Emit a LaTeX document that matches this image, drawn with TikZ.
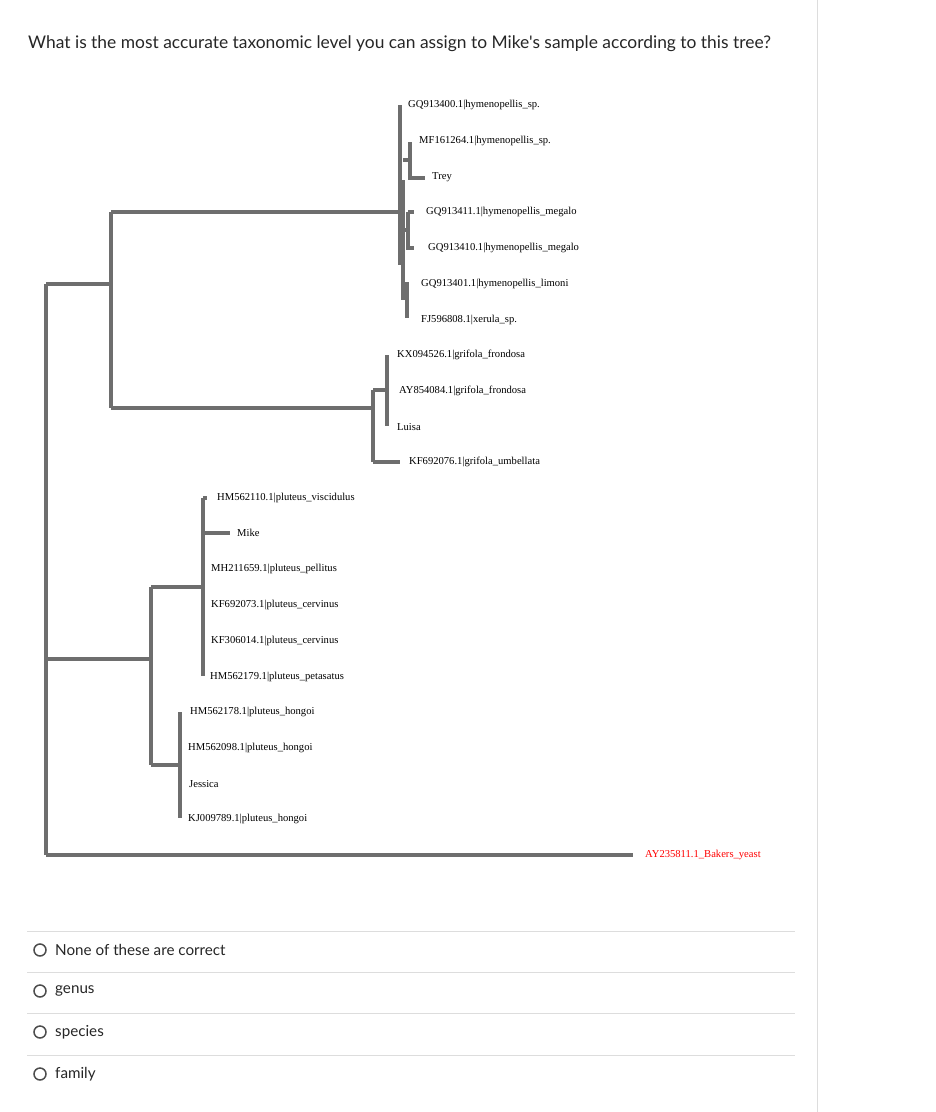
\documentclass[tikz,border=0pt]{standalone}
\usepackage{fontspec}
\setmainfont{Liberation Serif}
\newfontfamily\lato{Lato}
\definecolor{br}{HTML}{6E6E6E}
\definecolor{sep}{HTML}{DDDDDD}
\begin{document}
\begin{tikzpicture}[x=1pt,y=-1pt,
  br/.style={draw=br,line width=3.6pt},
  lb/.style={anchor=west,font=\fontsize{10.6}{11}\selectfont,inner sep=0pt},
  opt/.style={anchor=west,font=\lato\fontsize{15.2}{16}\selectfont,text=black!85,inner sep=0pt},
  rad/.style={draw=black!70,line width=1.5pt}]
\useasboundingbox (0,0) rectangle (936,1112);
\draw[sep,line width=1pt] (817,0) -- (817,1112);
\node[anchor=west,inner sep=0pt,font=\lato\fontsize{17.4}{19}\selectfont,text=black!85] (q) at (28,44) {What is the most accurate taxonomic level you can assign to Mike's sample according to this tree?};
% root
\draw[br] (46,284) -- (46,855);
\draw[br] (46,284) -- (111,284);
\draw[br] (111,212) -- (111,408);
\draw[br] (111,212) -- (403,212);
\draw[br] (111,408) -- (373,408);
% grifola
\draw[br] (373,390) -- (373,462);
\draw[br] (373,390) -- (387,390);
\draw[br] (387,355) -- (387,426);
\draw[br] (373,462) -- (400,462);
% hymeno
\draw[br] (400,105) -- (400,265);
\draw[br] (400,195) -- (403,195);
\draw[br] (403,180) -- (403,300);
\draw[br] (403,160) -- (410,160);
\draw[br] (410,142) -- (410,178) -- (425,178);
\draw[br] (403,230) -- (408,230);
\draw[br] (408,212) -- (414,212);
\draw[br] (408,212) -- (408,248) -- (414,248);
\draw[br] (403,290) -- (407,290);
\draw[br] (407,282) -- (407,318);
% pluteus
\draw[br] (46,659) -- (151,659);
\draw[br] (151,587) -- (151,765);
\draw[br] (151,587) -- (203,587);
\draw[br] (203,498) -- (203,676);
\draw[br] (203,498) -- (207,498);
\draw[br] (203,533) -- (230,533);
\draw[br] (151,765) -- (180,765);
\draw[br] (180,712) -- (180,818);
% outgroup
\draw[br] (46,855) -- (633,855);
% labels
\node[lb] (t1) at (408,105) {GQ913400.1|hymenopellis\_sp.};
\node[lb] (t2) at (419,141) {MF161264.1|hymenopellis\_sp.};
\node[lb] (t3) at (432,177) {Trey};
\node[lb] (t4) at (426,212) {GQ913411.1|hymenopellis\_megalo};
\node[lb] (t5) at (428,248) {GQ913410.1|hymenopellis\_megalo};
\node[lb] (t6) at (421,284) {GQ913401.1|hymenopellis\_limoni};
\node[lb] (t7) at (421,320) {FJ596808.1|xerula\_sp.};
\node[lb] (t8) at (397,355) {KX094526.1|grifola\_frondosa};
\node[lb] (t9) at (399,391) {AY854084.1|grifola\_frondosa};
\node[lb] (t10) at (397,427) {Luisa};
\node[lb] (t11) at (409,462) {KF692076.1|grifola\_umbellata};
\node[lb] (t12) at (217,498) {HM562110.1|pluteus\_viscidulus};
\node[lb] (t13) at (237,533) {Mike};
\node[lb] (t14) at (211,569) {MH211659.1|pluteus\_pellitus};
\node[lb] (t15) at (211,605) {KF692073.1|pluteus\_cervinus};
\node[lb] (t16) at (211,641) {KF306014.1|pluteus\_cervinus};
\node[lb] (t17) at (210,677) {HM562179.1|pluteus\_petasatus};
\node[lb] (t18) at (190,712) {HM562178.1|pluteus\_hongoi};
\node[lb] (t19) at (188,748) {HM562098.1|pluteus\_hongoi};
\node[lb] (t20) at (189,784) {Jessica};
\node[lb] (t21) at (188,819) {KJ009789.1|pluteus\_hongoi};
\node[lb,text=red] (t22) at (645,855) {AY235811.1\_Bakers\_yeast};
% options
\foreach \y in {931,972,1013,1055} \draw[sep,line width=0.8pt] (27,\y) -- (795,\y);
\node[rad,circle,minimum size=12pt,inner sep=0pt] (c1) at (40,950) {};
\node[rad,circle,minimum size=12pt,inner sep=0pt] (c2) at (40,991) {};
\node[rad,circle,minimum size=12pt,inner sep=0pt] (c3) at (40,1032) {};
\node[rad,circle,minimum size=12pt,inner sep=0pt] (c4) at (40,1074) {};
\node[opt] (o1) at (55,950) {None of these are correct};
\node[opt] (o2) at (55,991) {genus};
\node[opt] (o3) at (55,1032) {species};
\node[opt] (o4) at (55,1074) {family};
\end{tikzpicture}
\end{document}
